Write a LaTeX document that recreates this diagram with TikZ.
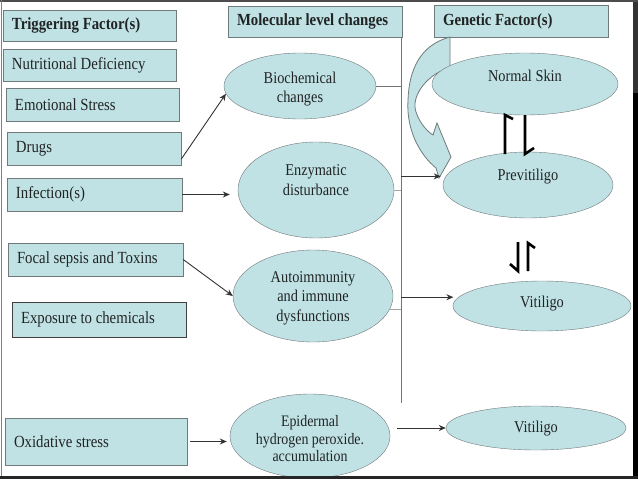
\documentclass[tikz,border=0pt]{standalone}
\usepackage{fontspec}
\setmainfont{Liberation Serif}[FakeStretch=0.87]
\usepackage{tikz}
\usetikzlibrary{shapes.geometric,arrows.meta,calc}
\definecolor{boxfill}{RGB}{193,226,229}
\definecolor{boxline}{RGB}{112,122,122}
\definecolor{txtgray}{RGB}{32,36,36}

\begin{document}
\begin{tikzpicture}[x=1pt,y=-1pt,
    factor/.style={rectangle,draw=boxline,fill=boxfill,text=txtgray,inner xsep=9pt,inner ysep=0pt,
      align=left,text width=#1,font=\fontsize{17}{19}\selectfont,
      execute at begin node={\spaceskip=0pt\xspaceskip=0pt}},
    bold/.style={font=\fontsize{17}{19}\selectfont\bfseries},
    blob/.style={ellipse,draw=boxline,fill=boxfill,text=txtgray,inner sep=0pt,align=center,
      font=\fontsize{16.5}{19.5}\selectfont},
    blobtext/.style={text=txtgray,align=center,font=\fontsize{16.5}{19.5}\selectfont},
    arr/.style={-{Stealth[length=7pt,width=6pt]},line width=0.9pt,draw=black!80},
    rule/.style={draw=black!55,line width=0.8pt},
    harp/.style={line width=2.6pt,line join=miter}]
  \useasboundingbox (0,0) rectangle (638,479);
  \fill[white] (0,0) rectangle (638,479);

  % triggering factors
  \node[factor=155pt,minimum height=31pt,bold] (trig) at (89.5,25.5) {Triggering Factor(s)};
  \node[factor=155pt,minimum height=32pt] (nutr) at (89.5,65) {Nutritional Deficiency};
  \node[factor=155pt,minimum height=33pt] (emot) at (92.5,104.5) {Emotional Stress};
  \node[factor=156pt,minimum height=33pt] (drugs) at (94,148.5) {Drugs};
  \node[factor=157pt,minimum height=33pt] (infec) at (94.5,194.5) {Infection(s)};
  \node[factor=157pt,minimum height=33pt] (focal) at (95.5,259.5) {Focal sepsis and Toxins};
  \node[factor=156pt,minimum height=35pt,draw=black!75,line width=1pt] (expo) at (99,319.5) {Exposure to chemicals};
  \node[factor=164pt,minimum height=47pt] (oxid) at (96,441.5) {Oxidative stress};

  % column heads
  \node[factor=156pt,minimum height=31pt,bold] (molec) at (315,21.5) {Molecular level changes};
  \node[factor=156pt,minimum height=32pt,bold] (genet) at (521,21) {Genetic Factor(s)};

  % curved arrow from the genetic factor
  \filldraw[draw=boxline,fill=boxfill,line width=0.8pt]
    (450,37) -- (450,68) .. controls (430,72) and (410,95) .. (416,112)
    .. controls (420,124) and (428,132) .. (433,135) -- (437,123) -- (451,157) -- (439,178)
    -- (436,168) .. controls (420,155) and (406,130) .. (408,100)
    .. controls (409,70) and (420,45) .. (450,37) -- cycle;

  % molecular level
  \node[blob,minimum width=152pt,minimum height=66pt,
    label={[blobtext,yshift=-3pt]center:{Biochemical\\changes}}] (bio) at (300,86) {};
  \node[blob,minimum width=156pt,minimum height=96pt,
    label={[blobtext,yshift=10pt]center:{Enzymatic\\disturbance}}] (enz) at (316,190) {};
  \node[blob,minimum width=160pt,minimum height=92pt,
    label={[blobtext,yshift=-2pt]center:{Autoimmunity\\and immune\\dysfunctions}}] (auto) at (313,296) {};
  \node[blob,minimum width=160pt,minimum height=84pt,
    label={[blobtext,yshift=-3pt,font=\fontsize{16}{17.5}\selectfont]center:{Epidermal\\hydrogen peroxide.\\accumulation}}]
    (epid) at (310,436) {};

  % skin states
  \node[blob,minimum width=186pt,minimum height=62pt,
    label={[blobtext,yshift=8pt]center:Normal Skin}] (norm) at (525,84) {};
  \node[blob,minimum width=170pt,minimum height=66pt,
    label={[blobtext,yshift=8pt]center:Previtiligo}] (prev) at (528,185) {};
  \node[blob,minimum width=178pt,minimum height=50pt,
    label={[blobtext,yshift=2pt]center:Vitiligo}] (vit) at (542,306) {};
  \node[blob,minimum width=180pt,minimum height=44pt,
    label={[blobtext,yshift=-1pt]center:Vitiligo}] (vitox) at (536,428) {};

  % divider
  \coordinate (vtop) at (401,37);
  \coordinate (vbot) at (401,403);
  \draw[rule] (vtop) -- (vbot);

  \draw[arr] (drugs.-7) -- (bio.186);
  \draw[arr,shorten >=8pt] (infec.east) -- (infec.east -| enz.west);
  \draw[arr] (focal.east) -- (auto.west);
  \draw[arr,shorten <=3pt,shorten >=3pt] (oxid.east) -- (oxid.east -| epid.west);
  \draw[arr,shorten <=7pt] (vitox.west -| epid.east) -- (vitox.west);

  \draw[rule] (bio.east) -- (bio.east -| vtop);
  \draw[rule,draw=black!35] (enz.east) -- (enz.east -| vtop);
  \draw[rule,draw=black!35] (auto.-10) -- (auto.-10 -| vtop);
  \draw[arr,shorten >=5pt] (prev.174 -| vtop) -- (prev.174);
  \draw[arr,shorten >=5pt] (vit.174 -| vtop) -- (vit.174);

  % reversible steps
  \draw[harp] (505,154) -- (505,115) -- (513,119);
  \draw[harp] (525,115) -- (525,154) -- (534,148);
  \draw[harp] (518,242) -- (518,271) -- (510,264);
  \draw[harp] (528,271) -- (528,243) -- (535,248);

  % slide frame
  \fill[black] (633,0) rectangle (638,479);
  \fill[black!80] (633,0) rectangle (638,93);
  \fill[black!85] (0,476) rectangle (638,479);
  \fill[black!70] (0,0) rectangle (638,1.5);
  \draw[black!50,line width=0.8pt] (1.5,0) -- (1.5,476);
\end{tikzpicture}
\end{document}
